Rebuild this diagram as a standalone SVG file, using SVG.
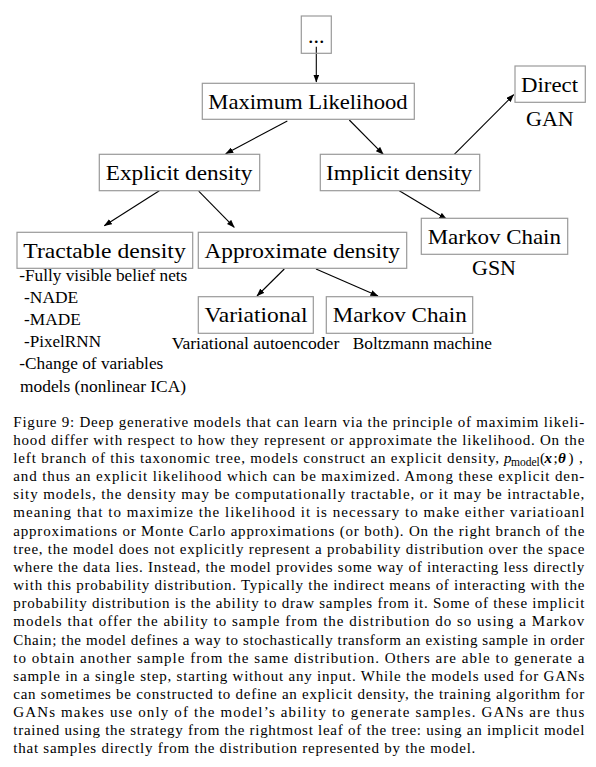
<svg xmlns="http://www.w3.org/2000/svg" width="596" height="767" viewBox="0 0 596 767">
<style>
.box{fill:#fff;stroke:#9a9a9a;stroke-width:1.2}
.lbl{font-size:22px;fill:#000}
.sm{font-size:17px;fill:#000}
.cap{font-size:15px;fill:#000}
.edge{stroke:#000;stroke-width:1.1;fill:none;marker-end:url(#ah)}
</style>
<defs>
<marker id="ah" markerUnits="userSpaceOnUse" markerWidth="8" markerHeight="6" refX="7.5" refY="3" orient="auto">
<path d="M0,0 L8,3 L0,6 z" fill="#000"/>
</marker>
</defs>
<rect width="596" height="767" fill="#fff"/>

<g id="connectors">
<line class="edge" x1="316.3" y1="46.7" x2="316.3" y2="82"/>
<line class="edge" x1="287.3" y1="121" x2="225.7" y2="153.7"/>
<line class="edge" x1="349.3" y1="120" x2="383.3" y2="154.3"/>
<line class="edge" x1="454.3" y1="154.3" x2="513.7" y2="94.7"/>
<line class="edge" x1="159.3" y1="190.7" x2="104.3" y2="225.7"/>
<line class="edge" x1="198.7" y1="191.2" x2="234.3" y2="227.3"/>
<line class="edge" x1="399.3" y1="190.7" x2="446.7" y2="219.3"/>
<line class="edge" x1="284.3" y1="269" x2="257" y2="296"/>
<line class="edge" x1="316" y1="269" x2="378" y2="296"/>
</g>

<g font-family="Liberation Serif, DejaVu Serif, Times New Roman, serif">
<g id="node-dots">
<rect class="box" x="301.3" y="16" width="30" height="37.3" fill-opacity="0"/>
<text class="lbl" x="316.3" y="43" text-anchor="middle">...</text>
</g>

<g id="node-ml">
<rect class="box" x="202.3" y="83.3" width="212" height="36"/>
<text class="lbl" x="208.3" y="109.3" textLength="199.4" lengthAdjust="spacingAndGlyphs">Maximum Likelihood</text>
</g>

<g id="node-explicit">
<rect class="box" x="99.3" y="154.3" width="160.4" height="36.4"/>
<text class="lbl" x="105.7" y="180" textLength="146.6" lengthAdjust="spacingAndGlyphs">Explicit density</text>
</g>

<g id="node-implicit">
<rect class="box" x="320.3" y="154.3" width="159.4" height="36.4"/>
<text class="lbl" x="326" y="180" textLength="146" lengthAdjust="spacingAndGlyphs">Implicit density</text>
</g>

<g id="node-direct">
<rect class="box" x="515" y="66" width="70.3" height="36.3"/>
<text class="lbl" x="521" y="91.7" textLength="57" lengthAdjust="spacingAndGlyphs">Direct</text>
<text class="lbl" x="526" y="126" textLength="47.7" lengthAdjust="spacingAndGlyphs">GAN</text>
</g>

<g id="node-tractable">
<rect class="box" x="17" y="232.3" width="175.7" height="36"/>
<text class="lbl" x="23.3" y="258.3" textLength="162.4" lengthAdjust="spacingAndGlyphs">Tractable density</text>
<text class="sm" x="19.3" y="280.7" textLength="168" lengthAdjust="spacingAndGlyphs">-Fully visible belief nets</text>
<text class="sm" x="24" y="302.7" textLength="54.3" lengthAdjust="spacingAndGlyphs">-NADE</text>
<text class="sm" x="24" y="324.7" textLength="56.7" lengthAdjust="spacingAndGlyphs">-MADE</text>
<text class="sm" x="24" y="347.3" textLength="77" lengthAdjust="spacingAndGlyphs">-PixelRNN</text>
<text class="sm" x="19.3" y="369.3" textLength="144" lengthAdjust="spacingAndGlyphs">-Change of variables</text>
<text class="sm" x="20" y="391.7" textLength="166" lengthAdjust="spacingAndGlyphs">models (nonlinear ICA)</text>
</g>

<g id="node-approx">
<rect class="box" x="198.3" y="232.3" width="208.4" height="36"/>
<text class="lbl" x="204.5" y="258.3" textLength="195.5" lengthAdjust="spacingAndGlyphs">Approximate density</text>
</g>

<g id="node-markov-gsn">
<rect class="box" x="421.3" y="218.3" width="146.4" height="36"/>
<text class="lbl" x="427.7" y="244" textLength="133.3" lengthAdjust="spacingAndGlyphs">Markov Chain</text>
<text class="lbl" x="472" y="275" textLength="44" lengthAdjust="spacingAndGlyphs">GSN</text>
</g>

<g id="node-variational">
<rect class="box" x="198.3" y="296.7" width="115" height="36.6"/>
<text class="lbl" x="204.5" y="322.3" textLength="103" lengthAdjust="spacingAndGlyphs">Variational</text>
<text class="sm" x="171.7" y="349.3" textLength="167.6" lengthAdjust="spacingAndGlyphs">Variational autoencoder</text>
</g>

<g id="node-markov-bm">
<rect class="box" x="326.3" y="296.7" width="146.4" height="36.6"/>
<text class="lbl" x="332.7" y="322.3" textLength="134" lengthAdjust="spacingAndGlyphs">Markov Chain</text>
<text class="sm" x="352.7" y="349.3" textLength="139.3" lengthAdjust="spacingAndGlyphs">Boltzmann machine</text>
</g>

<g id="caption">
<text class="cap" x="13.3" y="426.7" textLength="571" lengthAdjust="spacing">Figure 9: Deep generative models that can learn via the principle of maximim likeli-</text>
<text class="cap" x="13.3" y="444.85" textLength="571" lengthAdjust="spacing">hood differ with respect to how they represent or approximate the likelihood. On the</text>
<text class="cap" x="13.3" y="463" textLength="485.7" lengthAdjust="spacing">left branch of this taxonomic tree, models construct an explicit density,</text>
<text class="cap" y="463"><tspan x="504" font-style="italic">p</tspan><tspan x="511" dy="3" font-size="11.5">model</tspan><tspan x="540" dy="-3">(</tspan><tspan x="544.5" font-weight="bold" font-style="italic">x</tspan><tspan x="553.5">;</tspan><tspan x="558" font-weight="bold" font-style="italic">θ</tspan><tspan x="568.5">)</tspan><tspan x="579">,</tspan></text>
<text class="cap" x="13.3" y="481.15" textLength="571" lengthAdjust="spacing">and thus an explicit likelihood which can be maximized. Among these explicit den-</text>
<text class="cap" x="13.3" y="499.3" textLength="571" lengthAdjust="spacing">sity models, the density may be computationally tractable, or it may be intractable,</text>
<text class="cap" x="13.3" y="517.45" textLength="571" lengthAdjust="spacing">meaning that to maximize the likelihood it is necessary to make either variatioanl</text>
<text class="cap" x="13.3" y="535.6" textLength="571" lengthAdjust="spacing">approximations or Monte Carlo approximations (or both). On the right branch of the</text>
<text class="cap" x="13.3" y="553.75" textLength="571" lengthAdjust="spacing">tree, the model does not explicitly represent a probability distribution over the space</text>
<text class="cap" x="13.3" y="571.9" textLength="571" lengthAdjust="spacing">where the data lies. Instead, the model provides some way of interacting less directly</text>
<text class="cap" x="13.3" y="590.05" textLength="571" lengthAdjust="spacing">with this probability distribution. Typically the indirect means of interacting with the</text>
<text class="cap" x="13.3" y="608.2" textLength="571" lengthAdjust="spacing">probability distribution is the ability to draw samples from it. Some of these implicit</text>
<text class="cap" x="13.3" y="626.35" textLength="571" lengthAdjust="spacing">models that offer the ability to sample from the distribution do so using a Markov</text>
<text class="cap" x="13.3" y="644.5" textLength="571" lengthAdjust="spacing">Chain; the model defines a way to stochastically transform an existing sample in order</text>
<text class="cap" x="13.3" y="662.65" textLength="571" lengthAdjust="spacing">to obtain another sample from the same distribution. Others are able to generate a</text>
<text class="cap" x="13.3" y="680.8" textLength="571" lengthAdjust="spacing">sample in a single step, starting without any input. While the models used for GANs</text>
<text class="cap" x="13.3" y="698.95" textLength="571" lengthAdjust="spacing">can sometimes be constructed to define an explicit density, the training algorithm for</text>
<text class="cap" x="13.3" y="717.1" textLength="571" lengthAdjust="spacing">GANs makes use only of the model’s ability to generate samples. GANs are thus</text>
<text class="cap" x="13.3" y="735.25" textLength="571" lengthAdjust="spacing">trained using the strategy from the rightmost leaf of the tree: using an implicit model</text>
<text class="cap" x="13.3" y="753.4" textLength="462" lengthAdjust="spacing">that samples directly from the distribution represented by the model.</text>
</g>
</g>
</svg>
